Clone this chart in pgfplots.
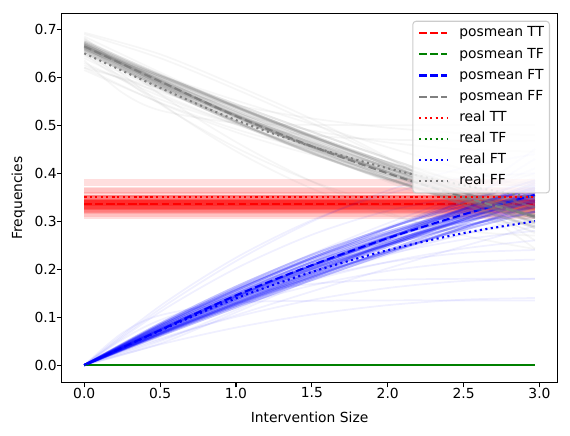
\documentclass[border=0pt]{standalone}
\usepackage{fontspec}
\setmainfont{DejaVu Sans}
\usepackage{pgfplots}
\pgfplotsset{compat=1.18}
\definecolor{mplgray}{RGB}{128,128,128}
\definecolor{mplgreen}{RGB}{0,128,0}
\definecolor{legframe}{RGB}{204,204,204}
\pgfplotsset{
  sampR/.style={red, line width=1.6pt, opacity=0.13, forget plot, no markers},
  sampRc/.style={red, line width=1.6pt, opacity=0.3, forget plot, no markers},
  sampB/.style={blue, line width=1.3pt, opacity=0.06, smooth, forget plot, no markers},
  sampBc/.style={blue, line width=1.6pt, opacity=0.24, smooth, forget plot, no markers},
  sampG/.style={mplgray, line width=1.3pt, opacity=0.07, smooth, forget plot, no markers},
  sampGc/.style={mplgray, line width=1.6pt, opacity=0.2, smooth, forget plot, no markers},
  pm/.style={line width=1.56pt, dash pattern=on 5.78pt off 2.5pt, no markers, smooth},
  rl/.style={line width=1.56pt, dash pattern=on 1.56pt off 2.58pt, no markers, smooth},
}
\begin{document}
\begin{tikzpicture}
\useasboundingbox (-46.3pt,-40pt) rectangle (381.3pt,287pt);
\begin{axis}[
  scale only axis, width=371.9pt, height=277pt,
  xmin=-0.1485, xmax=3.1185, ymin=-0.0363, ymax=0.7333,
  xtick={0,0.5,1,1.5,2,2.5,3},
  ytick={0,0.1,0.2,0.3,0.4,0.5,0.6,0.7},
  /pgf/number format/.cd, fixed, fixed zerofill, precision=1, assume math mode=true, /pgfplots/.cd,
  tick align=outside, tick pos=left, major tick length=3.65pt,
  every tick/.style={black, line width=0.83pt},
  axis line style={line width=0.83pt},
  ticklabel style={font=\fontsize{10.4}{12}\selectfont},
  yticklabel style={inner sep=0pt},
  xticklabel style={inner sep=0pt},
  xlabel={Intervention Size}, ylabel={Frequencies},
  label style={font=\fontsize{10.4}{12}\selectfont},
  xlabel style={at={(axis description cs:0.5,-0.1078)}, anchor=base},
  ylabel style={at={(axis description cs:-0.0799,0.5)}, anchor=base},
  legend cell align=left,
  legend image code/.code={\draw[#1] (0pt,0pt) -- (20.8pt,0pt);},
  legend style={at={(0.985,0.98)}, anchor=north east, draw=legframe, line width=0.8pt,
    rounded corners=2.5pt, fill=white, fill opacity=0.8, text opacity=1,
    inner xsep=4pt, inner ysep=4pt, font=\fontsize{10.4}{12}\selectfont,
    row sep=5.6pt, nodes={inner sep=0pt, text height=7.8pt, text depth=2.4pt},
    /tikz/every odd column/.append style={column sep=8.5pt}},
]
% ---- TT samples (constant)
\addplot[sampRc] coordinates {(0,0.335)(2.97,0.335)};
\addplot[sampRc] coordinates {(0,0.340)(2.97,0.340)};
\addplot[sampRc] coordinates {(0,0.330)(2.97,0.330)};
\addplot[sampRc] coordinates {(0,0.345)(2.97,0.345)};
\addplot[sampRc] coordinates {(0,0.325)(2.97,0.325)};
\addplot[sampRc] coordinates {(0,0.350)(2.97,0.350)};
\addplot[sampRc] coordinates {(0,0.320)(2.97,0.320)};
\addplot[sampRc] coordinates {(0,0.338)(2.97,0.338)};
\addplot[sampRc] coordinates {(0,0.332)(2.97,0.332)};
\addplot[sampR] coordinates {(0,0.355)(2.97,0.355)};
\addplot[sampR] coordinates {(0,0.315)(2.97,0.315)};
\addplot[sampR] coordinates {(0,0.360)(2.97,0.360)};
\addplot[sampR] coordinates {(0,0.310)(2.97,0.310)};
\addplot[sampR] coordinates {(0,0.370)(2.97,0.370)};
\addplot[sampRc] coordinates {(0,0.342)(2.97,0.342)};
\addplot[sampRc] coordinates {(0,0.328)(2.97,0.328)};
\addplot[sampR] coordinates {(0,0.380)(2.97,0.380)};
\addplot[sampRc] coordinates {(0,0.347)(2.97,0.347)};
\addplot[sampRc] coordinates {(0,0.322)(2.97,0.322)};
\addplot[sampR] coordinates {(0,0.385)(2.97,0.385)};
\addplot[sampR] coordinates {(0,0.307)(2.97,0.307)};
\addplot[sampR] coordinates {(0,0.375)(2.97,0.375)};
\addplot[sampR] coordinates {(0,0.365)(2.97,0.365)};
\addplot[sampRc] coordinates {(0,0.352)(2.97,0.352)};
\addplot[sampRc] coordinates {(0,0.344)(2.97,0.344)};
\addplot[sampRc] coordinates {(0,0.336)(2.97,0.336)};
\addplot[sampR] coordinates {(0,0.318)(2.97,0.318)};
\addplot[sampRc] coordinates {(0,0.327)(2.97,0.327)};
\addplot[sampRc] coordinates {(0,0.333)(2.97,0.333)};
\addplot[sampRc] coordinates {(0,0.339)(2.97,0.339)};
\addplot[sampRc] coordinates {(0,0.343)(2.97,0.343)};
\addplot[sampRc] coordinates {(0,0.348)(2.97,0.348)};
\addplot[sampRc] coordinates {(0,0.323)(2.97,0.323)};
\addplot[sampR] coordinates {(0,0.353)(2.97,0.353)};
\addplot[sampR] coordinates {(0,0.358)(2.97,0.358)};
\addplot[sampR] coordinates {(0,0.317)(2.97,0.317)};
\addplot[sampR] coordinates {(0,0.312)(2.97,0.312)};
\addplot[sampR] coordinates {(0,0.362)(2.97,0.362)};
\addplot[sampR] coordinates {(0,0.368)(2.97,0.368)};
\addplot[sampRc] coordinates {(0,0.334)(2.97,0.334)};
\addplot[sampRc] coordinates {(0,0.341)(2.97,0.341)};
\addplot[sampRc] coordinates {(0,0.329)(2.97,0.329)};
\addplot[sampRc] coordinates {(0,0.337)(2.97,0.337)};
\addplot[sampRc] coordinates {(0,0.331)(2.97,0.331)};
\addplot[sampRc] coordinates {(0,0.326)(2.97,0.326)};
\addplot[red, pm] coordinates {(0,0.3355)(2.97,0.3355)};
\addlegendentry{posmean TT}
% ---- TF
\addplot[mplgreen, line width=1.2pt, forget plot, no markers] coordinates {(0,0)(2.97,0)};
\addplot[mplgreen, pm] coordinates {(0,0)(2.97,0)};
\addlegendentry{posmean TF}
% ---- FT samples
\addplot[sampBc] coordinates {(0,0)(0.5,.0747)(1,.1433)(1.5,.2059)(2,.2625)(2.5,.3130)(2.97,.355)};
\addplot[sampBc] coordinates {(0,0)(0.5,.0715)(1,.1373)(1.5,.1972)(2,.2514)(2.5,.2998)(2.97,.34)};
\addplot[sampBc] coordinates {(0,0)(0.5,.0778)(1,.1494)(1.5,.2146)(2,.2736)(2.5,.3263)(2.97,.37)};
\addplot[sampBc] coordinates {(0,0)(0.5,.0787)(1,.1480)(1.5,.2079)(2,.2585)(2.5,.2998)(2.97,.33)};
\addplot[sampBc] coordinates {(0,0)(0.5,.0693)(1,.1364)(1.5,.2014)(2,.2643)(2.5,.3249)(2.97,.38)};
\addplot[sampBc] coordinates {(0,0)(0.5,.0673)(1,.1292)(1.5,.1856)(2,.2366)(2.5,.2822)(2.97,.32)};
\addplot[sampB] coordinates {(0,0)(0.5,.0821)(1,.1574)(1.5,.2262)(2,.2884)(2.5,.3439)(2.97,.39)};
\addplot[sampBc] coordinates {(0,0)(0.5,.0834)(1,.1569)(1.5,.2205)(2,.2742)(2.5,.3179)(2.97,.35)};
\addplot[sampBc] coordinates {(0,0)(0.5,.0657)(1,.1292)(1.5,.1908)(2,.2503)(2.5,.3078)(2.97,.36)};
\addplot[sampB] coordinates {(0,0)(0.5,.0715)(1,.1345)(1.5,.1890)(2,.2350)(2.5,.2725)(2.97,.30)};
\addplot[sampB] coordinates {(0,0)(0.5,.0748)(1,.1472)(1.5,.2173)(2,.2851)(2.5,.3506)(2.97,.41)};
\addplot[sampB] coordinates {(0,0)(0.5,.0746)(1,.1380)(1.5,.1904)(2,.2316)(2.5,.2618)(2.97,.28)};
\addplot[sampB] coordinates {(0,0)(0.5,.050)(1,.115)(1.5,.185)(2,.260)(2.5,.340)(2.97,.43)};
\addplot[sampB] coordinates {(0,0)(0.5,.0693)(1,.1282)(1.5,.1768)(2,.2151)(2.5,.2431)(2.97,.26)};
\addplot[sampBc] coordinates {(0,0)(0.5,.0726)(1,.1393)(1.5,.2001)(2,.2551)(2.5,.3042)(2.97,.345)};
\addplot[sampBc] coordinates {(0,0)(0.5,.0870)(1,.1637)(1.5,.2300)(2,.2859)(2.5,.3316)(2.97,.365)};
\addplot[sampB] coordinates {(0,0)(0.5,.0740)(1,.1344)(1.5,.1812)(2,.2144)(2.5,.2340)(2.97,.24)};
\addplot[sampB] coordinates {(0,0)(0.5,.0652)(1,.1251)(1.5,.1798)(2,.2292)(2.5,.2734)(2.97,.31)};
\addplot[sampB] coordinates {(0,0)(0.5,.0842)(1,.1615)(1.5,.2320)(2,.2958)(2.5,.3527)(2.97,.40)};
\addplot[sampB] coordinates {(0,0)(0.5,.0678)(1,.1232)(1.5,.1661)(2,.1965)(2.5,.2145)(2.97,.22)};
\addplot[sampB] coordinates {(0,0)(0.5,.045)(1,.110)(1.5,.180)(2,.260)(2.5,.350)(2.97,.45)};
\addplot[sampB] coordinates {(0,0)(0.5,.0555)(1,.1008)(1.5,.1359)(2,.1608)(2.5,.1755)(2.97,.18)};
\addplot[sampB] coordinates {(0,0)(0.25,.0668)(0.5,.104)(1,.130)(1.5,.134)(2,.135)(2.5,.135)(2.97,.135)};
\addplot[sampB] coordinates {(0,0)(0.25,.0534)(0.5,.0939)(1,.1452)(1.5,.1692)(2,.1779)(2.5,.1799)(2.97,.18)};
\addplot[sampB] coordinates {(0,0)(0.5,.0529)(1,.1041)(1.5,.1537)(2,.2017)(2.5,.2480)(2.97,.29)};
\addplot[sampBc] coordinates {(0,0)(0.5,.0611)(1,.1203)(1.5,.1776)(2,.2330)(2.5,.2865)(2.97,.335)};
\addplot[sampB] coordinates {(0,0)(0.5,.0432)(1,.0784)(1.5,.1057)(2,.1251)(2.5,.1365)(2.97,.14)};
\addplot[sampB] coordinates {(0,0)(0.5,.1234)(1,.2240)(1.5,.3020)(2,.3573)(2.5,.3900)(2.97,.40)};
\addplot[sampB] coordinates {(0,0)(0.5,.1110)(1,.2016)(1.5,.2718)(2,.3216)(2.5,.3510)(2.97,.36)};
\addplot[sampB] coordinates {(0,0)(0.5,.1172)(1,.2169)(1.5,.2992)(2,.3640)(2.5,.4114)(2.97,.44)};
\addplot[sampBc] coordinates {(0,0)(0.5,.0687)(1,.1335)(1.5,.1943)(2,.2511)(2.5,.3039)(2.97,.35)};
\addplot[sampBc] coordinates {(0,0)(0.5,.0757)(1,.1453)(1.5,.2088)(2,.2662)(2.5,.3174)(2.97,.36)};
\addplot[sampBc] coordinates {(0,0)(0.5,.0811)(1,.1525)(1.5,.2142)(2,.2664)(2.5,.3089)(2.97,.34)};
\addplot[sampBc] coordinates {(0,0)(0.5,.0737)(1,.1430)(1.5,.2082)(2,.2690)(2.5,.3257)(2.97,.375)};
\addplot[sampBc] coordinates {(0,0)(0.5,.0648)(1,.1259)(1.5,.1832)(2,.2367)(2.5,.2866)(2.97,.33)};
\addplot[sampBc] coordinates {(0,0)(0.5,.0666)(1,.1310)(1.5,.1935)(2,.2538)(2.5,.3121)(2.97,.365)};
\addplot[sampBc] coordinates {(0,0)(0.5,.0846)(1,.1592)(1.5,.2237)(2,.2781)(2.5,.3225)(2.97,.355)};
\addplot[sampBc] coordinates {(0,0)(0.5,.0629)(1,.1239)(1.5,.1829)(2,.2399)(2.5,.2950)(2.97,.345)};
\addplot[sampBc] coordinates {(0,0)(0.5,.0810)(1,.1554)(1.5,.2233)(2,.2847)(2.5,.3395)(2.97,.385)};
\addplot[sampBc] coordinates {(0,0)(0.5,.0763)(1,.1435)(1.5,.2016)(2,.2507)(2.5,.2907)(2.97,.32)};
\addplot[sampBc] coordinates {(0,0)(0.5,.0648)(1,.1274)(1.5,.1882)(2,.2469)(2.5,.3036)(2.97,.355)};
\addplot[sampBc] coordinates {(0,0)(0.5,.0727)(1,.1411)(1.5,.2054)(2,.2654)(2.5,.3213)(2.97,.37)};
\addplot[blue, pm] coordinates {(0,0)(0.5,.073)(1,.1454)(1.5,.2083)(2,.2646)(2.5,.3142)(2.97,.3549)};
\addlegendentry{posmean FT}
% ---- FF samples
\addplot[sampGc] coordinates {(0,.665)(0.5,.5903)(1,.5217)(1.5,.4591)(2,.4025)(2.5,.3520)(2.97,.310)};
\addplot[sampGc] coordinates {(0,.660)(0.5,.5885)(1,.5227)(1.5,.4628)(2,.4086)(2.5,.3602)(2.97,.320)};
\addplot[sampGc] coordinates {(0,.670)(0.5,.5922)(1,.5206)(1.5,.4554)(2,.3964)(2.5,.3437)(2.97,.300)};
\addplot[sampGc] coordinates {(0,.655)(0.5,.5763)(1,.5070)(1.5,.4471)(2,.3965)(2.5,.3552)(2.97,.325)};
\addplot[sampGc] coordinates {(0,.675)(0.5,.6057)(1,.5386)(1.5,.4736)(2,.4107)(2.5,.3501)(2.97,.295)};
\addplot[sampGc] coordinates {(0,.650)(0.5,.5827)(1,.5208)(1.5,.4644)(2,.4134)(2.5,.3678)(2.97,.330)};
\addplot[sampG] coordinates {(0,.680)(0.5,.5979)(1,.5226)(1.5,.4538)(2,.3916)(2.5,.3361)(2.97,.290)};
\addplot[sampGc] coordinates {(0,.662)(0.5,.5786)(1,.5051)(1.5,.4415)(2,.3878)(2.5,.3441)(2.97,.312)};
\addplot[sampGc] coordinates {(0,.668)(0.5,.6023)(1,.5388)(1.5,.4772)(2,.4177)(2.5,.3602)(2.97,.308)};
\addplot[sampG] coordinates {(0,.645)(0.5,.5735)(1,.5105)(1.5,.4560)(2,.4100)(2.5,.3725)(2.97,.345)};
\addplot[sampG] coordinates {(0,.685)(0.5,.6102)(1,.5378)(1.5,.4677)(2,.3999)(2.5,.3344)(2.97,.275)};
\addplot[sampG] coordinates {(0,.640)(0.5,.5654)(1,.5020)(1.5,.4496)(2,.4084)(2.5,.3782)(2.97,.360)};
\addplot[sampG] coordinates {(0,.690)(0.5,.640)(1,.575)(1.5,.505)(2,.430)(2.5,.350)(2.97,.260)};
\addplot[sampG] coordinates {(0,.630)(0.5,.5607)(1,.5018)(1.5,.4532)(2,.4149)(2.5,.3869)(2.97,.370)};
\addplot[sampGc] coordinates {(0,.658)(0.5,.5854)(1,.5187)(1.5,.4579)(2,.4029)(2.5,.3538)(2.97,.313)};
\addplot[sampGc] coordinates {(0,.672)(0.5,.5850)(1,.5083)(1.5,.4420)(2,.3861)(2.5,.3404)(2.97,.307)};
\addplot[sampG] coordinates {(0,.620)(0.5,.5460)(1,.4856)(1.5,.4388)(2,.4056)(2.5,.3860)(2.97,.380)};
\addplot[sampG] coordinates {(0,.653)(0.5,.5878)(1,.5279)(1.5,.4732)(2,.4238)(2.5,.3796)(2.97,.343)};
\addplot[sampG] coordinates {(0,.678)(0.5,.5938)(1,.5165)(1.5,.4460)(2,.3822)(2.5,.3253)(2.97,.278)};
\addplot[sampG] coordinates {(0,.615)(0.5,.5472)(1,.4918)(1.5,.4489)(2,.4185)(2.5,.4005)(2.97,.395)};
\addplot[sampG] coordinates {(0,.693)(0.5,.648)(1,.583)(1.5,.513)(2,.433)(2.5,.343)(2.97,.243)};
\addplot[sampG] coordinates {(0,.625)(0.5,.5695)(1,.5242)(1.5,.4891)(2,.4642)(2.5,.4495)(2.97,.445)};
\addplot[sampG] coordinates {(0,.635)(0.25,.5682)(0.5,.531)(1,.505)(1.5,.501)(2,.500)(2.5,.500)(2.97,.500)};
\addplot[sampG] coordinates {(0,.648)(0.25,.5946)(0.5,.5541)(1,.5028)(1.5,.4788)(2,.4701)(2.5,.4681)(2.97,.468)};
\addplot[sampG] coordinates {(0,.656)(0.5,.6031)(1,.5519)(1.5,.5023)(2,.4543)(2.5,.4080)(2.97,.366)};
\addplot[sampGc] coordinates {(0,.664)(0.5,.6029)(1,.5437)(1.5,.4864)(2,.4310)(2.5,.3775)(2.97,.329)};
\addplot[sampG] coordinates {(0,.620)(0.5,.5768)(1,.5416)(1.5,.5143)(2,.4949)(2.5,.4835)(2.97,.480)};
\addplot[sampG] coordinates {(0,.670)(0.5,.5466)(1,.4460)(1.5,.3680)(2,.3127)(2.5,.2800)(2.97,.270)};
\addplot[sampG] coordinates {(0,.655)(0.5,.5440)(1,.4534)(1.5,.3832)(2,.3334)(2.5,.3040)(2.97,.295)};
\addplot[sampG] coordinates {(0,.682)(0.5,.5648)(1,.4651)(1.5,.3828)(2,.3180)(2.5,.2706)(2.97,.242)};
\addplot[sampGc] coordinates {(0,.663)(0.5,.5943)(1,.5295)(1.5,.4687)(2,.4119)(2.5,.3591)(2.97,.313)};
\addplot[sampGc] coordinates {(0,.666)(0.5,.5903)(1,.5207)(1.5,.4572)(2,.3998)(2.5,.3486)(2.97,.306)};
\addplot[sampGc] coordinates {(0,.669)(0.5,.5879)(1,.5165)(1.5,.4548)(2,.4026)(2.5,.3601)(2.97,.329)};
\addplot[sampGc] coordinates {(0,.661)(0.5,.5873)(1,.5180)(1.5,.4528)(2,.3920)(2.5,.3353)(2.97,.286)};
\addplot[sampGc] coordinates {(0,.659)(0.5,.5942)(1,.5331)(1.5,.4758)(2,.4223)(2.5,.3724)(2.97,.329)};
\addplot[sampGc] coordinates {(0,.671)(0.5,.6044)(1,.5400)(1.5,.4775)(2,.4172)(2.5,.3589)(2.97,.306)};
\addplot[sampGc] coordinates {(0,.667)(0.5,.5824)(1,.5078)(1.5,.4433)(2,.3889)(2.5,.3445)(2.97,.312)};
\addplot[sampGc] coordinates {(0,.662)(0.5,.5991)(1,.5381)(1.5,.4791)(2,.4221)(2.5,.3670)(2.97,.317)};
\addplot[sampGc] coordinates {(0,.674)(0.5,.5930)(1,.5186)(1.5,.4507)(2,.3893)(2.5,.3345)(2.97,.289)};
\addplot[sampGc] coordinates {(0,.657)(0.5,.5807)(1,.5135)(1.5,.4554)(2,.4063)(2.5,.3663)(2.97,.337)};
\addplot[sampGc] coordinates {(0,.664)(0.5,.5992)(1,.5366)(1.5,.4758)(2,.4171)(2.5,.3604)(2.97,.309)};
\addplot[sampGc] coordinates {(0,.668)(0.5,.5953)(1,.5269)(1.5,.4626)(2,.4026)(2.5,.3467)(2.97,.298)};
\addplot[mplgray, pm] coordinates {(0,.6645)(0.5,.5915)(1,.5191)(1.5,.4562)(2,.3999)(2.5,.3503)(2.97,.3096)};
\addlegendentry{posmean FF}
% ---- real values
\addplot[red, rl] coordinates {(0,0.35)(2.97,0.35)};
\addlegendentry{real TT}
\addplot[mplgreen, rl] coordinates {(0,0)(2.97,0)};
\addlegendentry{real TF}
\addplot[blue, rl] coordinates {(0,0)(0.5,.072)(1,.1392)(1.5,.1942)(2,.2396)(2.5,.2753)(2.97,.3001)};
\addlegendentry{real FT}
\addplot[mplgray, rl] coordinates {(0,.65)(0.5,.578)(1,.5108)(1.5,.4558)(2,.4104)(2.5,.3747)(2.97,.3499)};
\addlegendentry{real FF}
\end{axis}
\end{tikzpicture}
\end{document}
